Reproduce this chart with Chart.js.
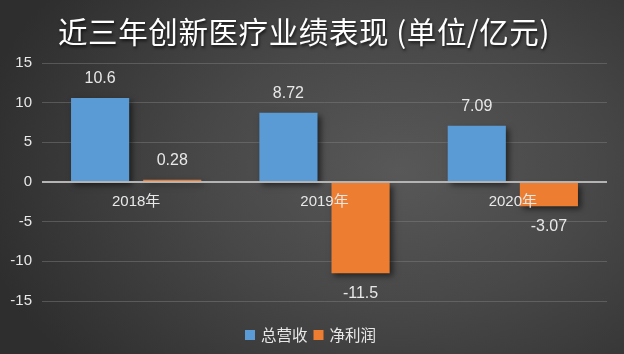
<!DOCTYPE html>
<html>
<head>
<meta charset="utf-8">
<script src="https://cdn.jsdelivr.net/npm/chart.js@4.4.1/dist/chart.umd.min.js"></script>
<style>
html,body{margin:0;padding:0;}
body{width:624px;height:354px;overflow:hidden;background:radial-gradient(ellipse 430px 300px at 400px 170px,#585858 0%,#484848 45%,#2e2e2e 100%);}
#wrap{position:relative;width:624px;height:354px;}
</style>
</head>
<body>
<div id="wrap"><canvas id="c" width="624" height="354"></canvas></div>
<script>
const titleText = "近三年创新医疗业绩表现 (单位/亿元)";
const categories = ["2018年", "2019年", "2020年"];
const seriesNames = ["总营收", "净利润"];
const revenue = [10.6, 8.72, 7.09];
const netProfit = [0.28, -11.5, -3.07];
const yTicks = [-15, -10, -5, 0, 5, 10, 15];

const FONT = "'Liberation Sans', 'Noto Sans CJK SC', sans-serif";
const CJK = "'Noto Sans CJK SC', 'Liberation Sans', sans-serif";
const TXT = "#e8e8e8";
const palette = [
  {top: "#74ace3", bottom: "#4589cf", solid: "#5b9bd5"},
  {top: "#f39258", bottom: "#e8691a", solid: "#ed7d31"}
];

function grad(idx) {
  return function(ctx) {
    const chart = ctx.chart;
    const area = chart.chartArea;
    if (!area) return palette[idx].solid;
    const p = chart.getDatasetMeta(ctx.datasetIndex).data[ctx.dataIndex];
    if (!p) return palette[idx].solid;
    const y0 = Math.min(p.y, p.base), y1 = Math.max(p.y, p.base);
    if (!(isFinite(y0) && isFinite(y1)) || y1 - y0 < 1) return palette[idx].solid;
    const g = chart.ctx.createLinearGradient(0, y0, 0, y1);
    g.addColorStop(0, palette[idx].top);
    g.addColorStop(1, palette[idx].bottom);
    return g;
  };
}

const shadowPlugin = {
  id: "shadow",
  beforeDatasetsDraw(chart) {
    const c = chart.ctx;
    c.save();
    c.shadowColor = "rgba(0,0,0,0.55)";
    c.shadowBlur = 6;
    c.shadowOffsetX = 3;
    c.shadowOffsetY = 3;
  },
  afterDatasetsDraw(chart) {
    chart.ctx.restore();
  }
};

const textPlugin = {
  id: "texts",
  afterDraw(chart) {
    const c = chart.ctx;
    const ys = chart.scales.y;
    const xs = chart.scales.x;
    const z = ys.getPixelForValue(0);
    c.save();
    c.strokeStyle = "#b4b4b4";
    c.lineWidth = 2;
    c.beginPath();
    c.moveTo(chart.chartArea.left, z);
    c.lineTo(chart.chartArea.right, z);
    c.stroke();
    c.restore();

    c.save();
    c.font = "16px " + FONT;
    c.fillStyle = TXT;
    c.textAlign = "center";
    c.textBaseline = "middle";
    chart.data.datasets.forEach((ds, di) => {
      const meta = chart.getDatasetMeta(di);
      meta.data.forEach((bar, i) => {
        const v = ds.data[i];
        const y = v >= 0 ? bar.y - 19 : bar.y + 20;
        c.fillText(String(v), bar.x, y);
      });
    });
    c.font = "15px " + FONT;
    categories.forEach((lab, i) => {
      c.fillText(lab, xs.getPixelForValue(i), z + 20);
    });
    // title
    c.font = "29.5px " + CJK;
    c.fillStyle = "#ffffff";
    c.shadowColor = "rgba(0,0,0,0.7)";
    c.shadowBlur = 3;
    c.shadowOffsetX = 1;
    c.shadowOffsetY = 2;
    try { c.letterSpacing = "0.6px"; } catch (e) {}
    c.fillText(titleText, 304, 32);
    try { c.letterSpacing = "0px"; } catch (e) {}
    c.shadowColor = "transparent";
    // legend
    c.font = "15.5px " + CJK;
    c.textAlign = "left";
    const items = chart.data.datasets.map((d, i) => ({label: d.label, color: palette[i].solid}));
    let x = 245;
    const ly = 335;
    items.forEach(it => {
      c.fillStyle = it.color;
      c.fillRect(x, ly - 5, 10, 10);
      c.fillStyle = TXT;
      c.fillText(it.label, x + 16, ly);
      x += 16 + c.measureText(it.label).width + 6;
    });
    c.restore();
  }
};

new Chart(document.getElementById("c"), {
  type: "bar",
  data: {
    labels: categories,
    datasets: [
      {label: seriesNames[0], data: revenue, backgroundColor: grad(0), borderWidth: 0},
      {label: seriesNames[1], data: netProfit, backgroundColor: grad(1), borderWidth: 0}
    ]
  },
  options: {
    responsive: false,
    animation: false,
    devicePixelRatio: 1,
    layout: {padding: {top: 63, bottom: 53, left: 0, right: 17}},
    datasets: {bar: {categoryPercentage: 0.766, barPercentage: 0.806}},
    plugins: {legend: {display: false}, title: {display: false}, tooltip: {enabled: false}},
    scales: {
      x: {display: false},
      y: {
        min: -15, max: 15,
        afterFit(s) { s.width = 42; },
        afterBuildTicks(s) { s.ticks = yTicks.map(v => ({value: v})); },
        border: {display: false},
        grid: {color: "rgba(130,130,130,0.45)", lineWidth: 1, drawTicks: false},
        ticks: {color: TXT, font: {family: FONT, size: 15}, padding: 10}
      }
    }
  },
  plugins: [shadowPlugin, textPlugin]
});
</script>
</body>
</html>
